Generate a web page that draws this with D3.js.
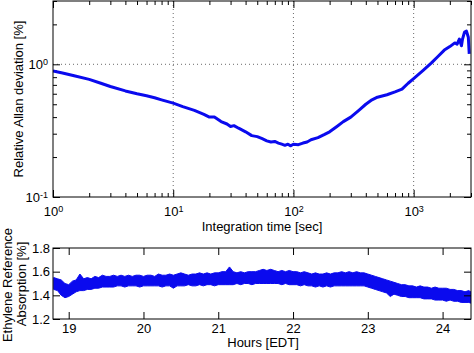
<!DOCTYPE html>
<html>
<head>
<meta charset="utf-8">
<script src="https://cdn.jsdelivr.net/npm/d3@7"></script>
<style>
  body { margin: 0; background: #fff; }
  svg { display: block; font-family: "Liberation Sans", Arial, sans-serif; }
</style>
</head>
<body>
<svg id="chart" width="474" height="353"></svg>
<script>
// Allan deviation curve: [integration time (s), relative deviation (%)]
const allan_points = [
  [1, 0.89], [1.2, 0.86], [1.5, 0.82], [2, 0.77], [2.5, 0.72], [3, 0.68],
  [4, 0.63], [5, 0.6], [6, 0.58], [7, 0.56], [8, 0.54], [10, 0.51],
  [12, 0.48], [15, 0.45], [18, 0.42], [20, 0.4], [22, 0.4], [25, 0.37],
  [28, 0.355], [30, 0.34], [32, 0.345], [35, 0.33], [40, 0.31], [45, 0.29],
  [50, 0.285], [55, 0.275], [60, 0.265], [65, 0.26], [70, 0.262], [75, 0.255],
  [80, 0.25], [85, 0.245], [90, 0.25], [95, 0.243], [100, 0.25], [110, 0.248],
  [120, 0.255], [130, 0.26], [140, 0.27], [160, 0.28], [180, 0.295], [200, 0.31],
  [230, 0.34], [260, 0.37], [300, 0.4], [350, 0.45], [400, 0.5], [450, 0.54],
  [500, 0.565], [600, 0.59], [700, 0.62], [800, 0.65], [900, 0.72], [1000, 0.78],
  [1200, 0.9], [1400, 1.02], [1600, 1.15], [1800, 1.28], [2000, 1.36], [2200, 1.45],
  [2300, 1.42], [2400, 1.55], [2500, 1.38], [2550, 1.55], [2650, 1.75], [2750, 1.78],
  [2850, 1.6], [2900, 1.2]
];

// reference absorption band, sampled every 0.05 h from 18.80 h
const hours_start = 18.8;
const hours_step = 0.05;
const absorption_upper = [
  1.55, 1.54, 1.53, 1.50, 1.49, 1.52, 1.53, 1.58, 1.54, 1.55,
  1.54, 1.56, 1.55, 1.57, 1.56, 1.56, 1.57, 1.56, 1.57, 1.56,
  1.57, 1.56, 1.57, 1.57, 1.56, 1.57, 1.57, 1.56, 1.58, 1.57,
  1.57, 1.58, 1.57, 1.58, 1.59, 1.58, 1.57, 1.58, 1.58, 1.59,
  1.58, 1.59, 1.58, 1.59, 1.59, 1.60, 1.60, 1.64, 1.60, 1.59,
  1.60, 1.59, 1.60, 1.60, 1.60, 1.61, 1.62, 1.61, 1.62, 1.61,
  1.60, 1.61, 1.60, 1.61, 1.60, 1.60, 1.59, 1.60, 1.59, 1.58,
  1.59, 1.58, 1.58, 1.59, 1.58, 1.59, 1.59, 1.60, 1.59, 1.60,
  1.59, 1.60, 1.59, 1.59, 1.58, 1.57, 1.56, 1.55, 1.54, 1.53,
  1.52, 1.51, 1.50, 1.49, 1.49, 1.48, 1.48, 1.47, 1.48, 1.47,
  1.47, 1.46, 1.47, 1.46, 1.46, 1.46, 1.45, 1.45, 1.44, 1.44,
  1.43, 1.44, 1.42
];
const absorption_lower = [
  1.45, 1.44, 1.40, 1.38, 1.39, 1.41, 1.43, 1.44, 1.44, 1.45,
  1.45, 1.46, 1.46, 1.47, 1.47, 1.47, 1.47, 1.48, 1.48, 1.47,
  1.48, 1.48, 1.48, 1.47, 1.48, 1.48, 1.48, 1.48, 1.48, 1.47,
  1.48, 1.48, 1.46, 1.48, 1.48, 1.48, 1.49, 1.48, 1.48, 1.49,
  1.48, 1.49, 1.49, 1.48, 1.49, 1.49, 1.49, 1.49, 1.49, 1.50,
  1.49, 1.50, 1.50, 1.49, 1.50, 1.50, 1.50, 1.50, 1.50, 1.50,
  1.50, 1.49, 1.50, 1.49, 1.49, 1.49, 1.48, 1.49, 1.48, 1.48,
  1.47, 1.48, 1.47, 1.48, 1.47, 1.48, 1.48, 1.48, 1.48, 1.48,
  1.48, 1.48, 1.48, 1.48, 1.47, 1.46, 1.45, 1.44, 1.43, 1.42,
  1.39, 1.41, 1.40, 1.39, 1.39, 1.38, 1.38, 1.38, 1.38, 1.37,
  1.37, 1.37, 1.36, 1.36, 1.36, 1.35, 1.36, 1.35, 1.35, 1.34,
  1.34, 1.34, 1.33
];

const tau_decades = [1, 10, 100, 1000];
const adev_decades = [0.1, 1];
const hour_ticks = [19, 20, 21, 22, 23, 24];
const absorption_ticks = [1.2, 1.4, 1.6, 1.8];

const blue = "#0a0aee";
const svg = d3.select("#chart");

// ---------- top panel: Allan deviation ----------
const top_box = { left: 53, right: 471, top: 1, bottom: 197 };

const x = d3.scaleLog().domain([1, 3000]).range([top_box.left, top_box.right]);
const y = d3.scaleLog().domain([0.1, 3]).range([top_box.bottom, top_box.top]);

const minor_x = [];
[1, 10, 100, 1000].forEach(d => {
  for (let k = 2; k <= 9; k++) if (d * k <= 3000) minor_x.push(d * k);
});
const minor_y = [];
[0.1, 1].forEach(d => {
  for (let k = 2; k <= 9; k++) if (d * k <= 3) minor_y.push(d * k);
});

function sup_label(sel) {
  sel.each(function (d) {
    const t = d3.select(this).text(null);
    t.append("tspan").text("10");
    t.append("tspan")
      .attr("dy", "-0.45em")
      .attr("font-size", 9)
      .text(Math.round(Math.log10(d)));
  });
}

const grid = svg.append("g")
  .attr("stroke", "#444")
  .attr("stroke-width", 0.8)
  .attr("stroke-dasharray", "1,3");
grid.selectAll(".gx").data([10, 100, 1000]).join("line")
  .attr("x1", d => x(d)).attr("x2", d => x(d))
  .attr("y1", top_box.top).attr("y2", top_box.bottom);
grid.selectAll(".gy").data([1]).join("line")
  .attr("y1", d => y(d)).attr("y2", d => y(d))
  .attr("x1", top_box.left).attr("x2", top_box.right);

// minor ticks
svg.append("g").attr("transform", `translate(0,${ top_box.bottom })`)
  .call(d3.axisBottom(x).tickValues(minor_x).tickSize(-4).tickFormat(""));
svg.append("g").attr("transform", `translate(0,${ top_box.top })`)
  .call(d3.axisTop(x).tickValues(minor_x).tickSize(-4).tickFormat(""));
svg.append("g").attr("transform", `translate(${ top_box.left },0)`)
  .call(d3.axisLeft(y).tickValues(minor_y).tickSize(-4).tickFormat(""));
svg.append("g").attr("transform", `translate(${ top_box.right },0)`)
  .call(d3.axisRight(y).tickValues(minor_y).tickSize(-4).tickFormat(""));

// major ticks + labels
svg.append("g").attr("transform", `translate(0,${ top_box.bottom })`)
  .call(d3.axisBottom(x).tickValues(tau_decades).tickSize(-7).tickPadding(10))
  .call(g => g.selectAll("text").call(sup_label));
svg.append("g").attr("transform", `translate(0,${ top_box.top })`)
  .call(d3.axisTop(x).tickValues(tau_decades).tickSize(-7).tickFormat(""));
svg.append("g").attr("transform", `translate(${ top_box.left },0)`)
  .call(d3.axisLeft(y).tickValues(adev_decades).tickSize(-7).tickPadding(5))
  .call(g => g.selectAll("text").call(sup_label));
svg.append("g").attr("transform", `translate(${ top_box.right },0)`)
  .call(d3.axisRight(y).tickValues(adev_decades).tickSize(-7).tickFormat(""));

svg.selectAll(".domain").remove();

svg.append("defs").append("clipPath").attr("id", "clip-top")
  .append("rect")
  .attr("x", top_box.left).attr("y", top_box.top)
  .attr("width", top_box.right - top_box.left)
  .attr("height", top_box.bottom - top_box.top);

svg.append("path")
  .datum(allan_points)
  .attr("clip-path", "url(#clip-top)")
  .attr("fill", "none")
  .attr("stroke", blue)
  .attr("stroke-width", 3)
  .attr("stroke-linejoin", "round")
  .attr("d", d3.line().x(d => x(d[0])).y(d => y(d[1])));

svg.append("rect")
  .attr("x", top_box.left).attr("y", top_box.top)
  .attr("width", top_box.right - top_box.left)
  .attr("height", top_box.bottom - top_box.top)
  .attr("fill", "none").attr("stroke", "#000");

// ---------- bottom panel: reference absorption ----------
const bot_box = { left: 53, right: 471, top: 248, bottom: 319 };

const hx = d3.scaleLinear().domain([18.79, 24.38]).range([bot_box.left, bot_box.right]);
const hy = d3.scaleLinear().domain([1.2, 1.8]).range([bot_box.bottom, bot_box.top]);

const band = absorption_upper.map((u, i) => ({
  h: hours_start + i * hours_step,
  hi: u,
  lo: absorption_lower[i]
}));

svg.append("defs").append("clipPath").attr("id", "clip-bot")
  .append("rect")
  .attr("x", bot_box.left).attr("y", bot_box.top)
  .attr("width", bot_box.right - bot_box.left)
  .attr("height", bot_box.bottom - bot_box.top);

svg.append("path")
  .datum(band)
  .attr("clip-path", "url(#clip-bot)")
  .attr("fill", blue)
  .attr("stroke", blue)
  .attr("stroke-width", 1)
  .attr("d", d3.area().x(d => hx(d.h)).y0(d => hy(d.lo)).y1(d => hy(d.hi)));

svg.append("g").attr("transform", `translate(0,${ bot_box.bottom })`)
  .call(d3.axisBottom(hx).tickValues(hour_ticks).tickSize(-7).tickPadding(5)
    .tickFormat(d3.format("d")));
svg.append("g").attr("transform", `translate(0,${ bot_box.top })`)
  .call(d3.axisTop(hx).tickValues(hour_ticks).tickSize(-7).tickFormat(""));
svg.append("g").attr("transform", `translate(${ bot_box.left },0)`)
  .call(d3.axisLeft(hy).tickValues(absorption_ticks).tickSize(-7).tickPadding(3)
    .tickFormat(d3.format(".1f")));
svg.append("g").attr("transform", `translate(${ bot_box.right },0)`)
  .call(d3.axisRight(hy).tickValues(absorption_ticks).tickSize(-7).tickFormat(""));

svg.selectAll(".domain").remove();

svg.append("rect")
  .attr("x", bot_box.left).attr("y", bot_box.top)
  .attr("width", bot_box.right - bot_box.left)
  .attr("height", bot_box.bottom - bot_box.top)
  .attr("fill", "none").attr("stroke", "#000");

// fonts for all tick labels
svg.selectAll(".tick text")
  .attr("font-family", "Liberation Sans, Arial, sans-serif")
  .attr("font-size", 13)
  .attr("fill", "#000");
svg.selectAll(".tick line").attr("stroke", "#000");

// ---------- axis titles ----------
const title = (tx, ty, txt, rot) => svg.append("text")
  .attr("transform", `translate(${ tx },${ ty })${ rot ? " rotate(-90)" : "" }`)
  .attr("text-anchor", "middle")
  .attr("font-size", 13)
  .attr("fill", "#000")
  .text(txt);

title(262, 231, "Integration time [sec]");
title(263, 347, "Hours [EDT]");
title(23, 99, "Relative Allan deviation [%]", true);
title(12, 285, "Ethylene Reference", true);
title(26, 284, "Absorption [%]", true);
</script>
</body>
</html>
